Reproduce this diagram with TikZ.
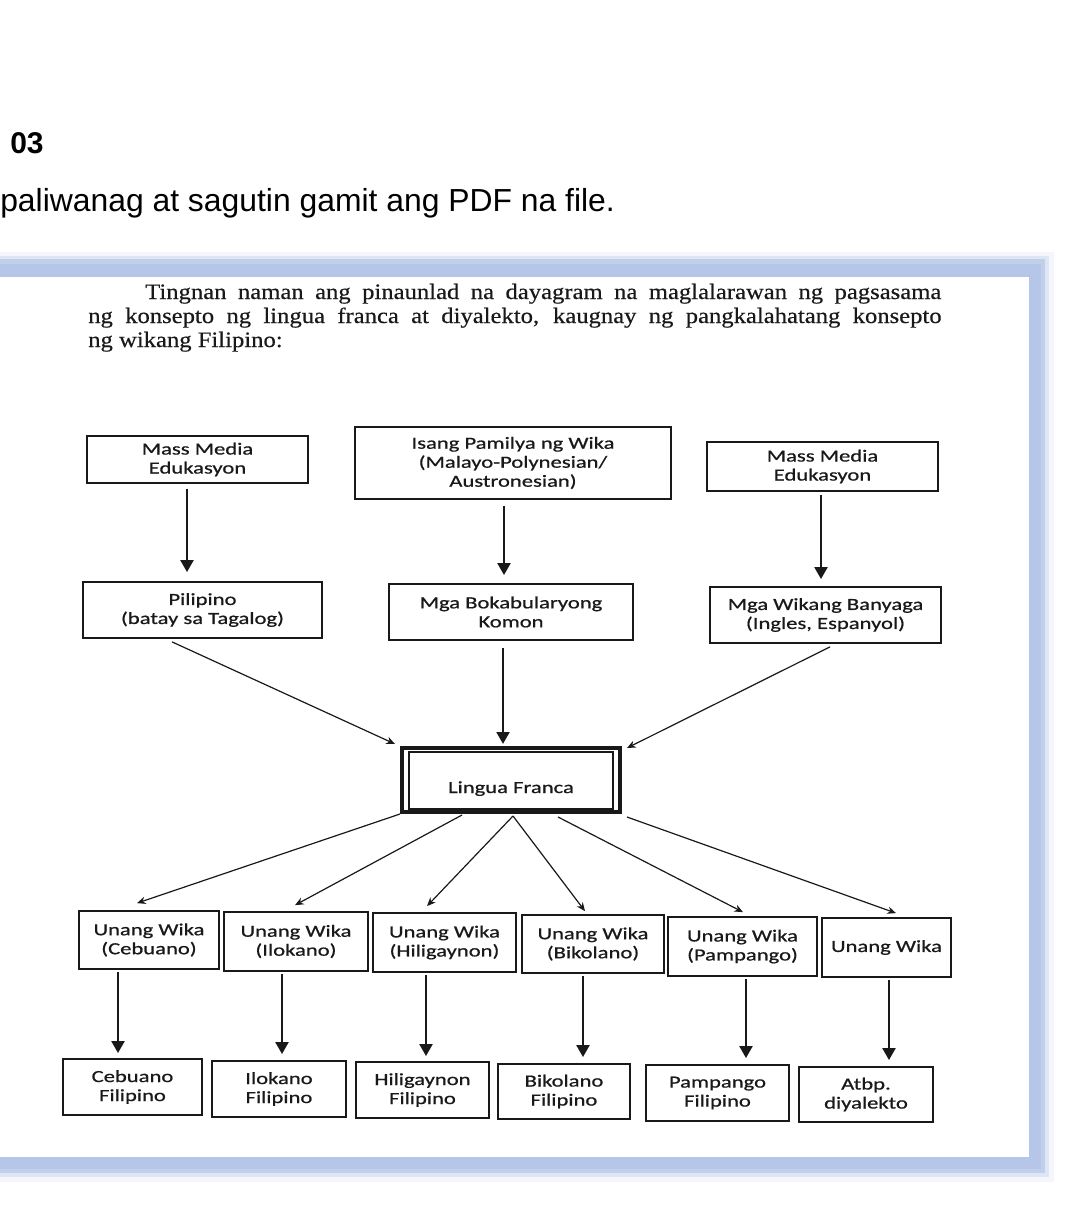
\documentclass[tikz,border=0pt]{standalone}
\usepackage{fontspec}
\setmainfont{Liberation Sans}
\newfontfamily\serfont[FakeStretch=1.12,FakeBold=0.4]{Liberation Serif}
\newfontfamily\calfont[FakeStretch=1.33,FakeBold=0.7]{Carlito}
\usetikzlibrary{arrows.meta,calc}
\definecolor{glowc}{RGB}{182,198,232}
\definecolor{inkc}{RGB}{25,25,25}
\newcommand{\boxfont}{\calfont\fontsize{12.75pt}{14.25pt}\selectfont}
\newcommand{\parfont}{\serfont\fontsize{16.5pt}{18pt}\selectfont}
\begin{document}
\begin{tikzpicture}[x=0.75pt,y=-0.75pt,
  box/.style={draw=inkc, line width=1.3pt, fill=white, align=center, font=\boxfont, text=inkc, inner sep=2pt},
  lfbox/.style={draw=inkc, line width=3pt, fill=white, align=center, font=\boxfont, text=inkc, inner sep=2pt},
  wh/.style 2 args={minimum width={(#1)*0.75pt}, minimum height={(#2)*0.75pt}},
  thickarr/.style={draw=inkc, line width=2.2pt, -{Triangle[length=9pt,width=9.5pt]}},
  thinarr/.style={draw=inkc, line width=0.9pt, -{Stealth[length=6.5pt,width=5.5pt]}},
  ptext/.style={anchor=base west, inner sep=0pt, font=\parfont, text=inkc}
]
\useasboundingbox (0,0) rectangle (1080,1211);
\fill[white] (0,0) rectangle (1080,1211);

% headings
\node[anchor=base west, inner sep=0pt, font=\bfseries\fontsize{22.5pt}{25pt}\selectfont] (h1) at (10,153) {03};
\node[anchor=base west, inner sep=0pt, font=\fontsize{23.9pt}{27pt}\selectfont] (h2) at (0,211) {paliwanag at sagutin gamit ang PDF na file.};

% glowing frame
\fill[glowc, opacity=0.15] (-30,252) rectangle (1054,1182);
\fill[glowc, opacity=0.35] (-30,256) rectangle (1049,1177);
\fill[glowc, opacity=0.7] (-30,259) rectangle (1045,1173);
\fill[glowc] (-30,264) rectangle (1041,1169);
\fill[white] (-30,277) rectangle (1029,1157);

% paragraph
\node[ptext] (p1) at (145,299) {\makebox[597pt][s]{Tingnan naman ang pinaunlad na dayagram na maglalarawan ng pagsasama}};
\node[ptext] (p2) at (88,323) {\makebox[640pt][s]{ng konsepto ng lingua franca at diyalekto, kaugnay ng pangkalahatang konsepto}};
\node[ptext] (p3) at (88,347) {ng wikang Filipino:};

% row A
\node[box, wh={221}{47}] (A1) at (197.5,459.5) {Mass Media\\Edukasyon};
\node[box, wh={316}{72}] (A2) at (513,463) {Isang Pamilya ng Wika\\(Malayo-Polynesian/\\Austronesian)};
\node[box, wh={231}{49}] (A3) at (822.5,466.5) {Mass Media\\Edukasyon};
% row B
\node[box, wh={239}{56}] (B1) at (202.5,610) {Pilipino\\(batay sa Tagalog)};
\node[box, wh={244}{56}] (B2) at (511,612) {Mga Bokabularyong\\Komon};
\node[box, wh={231}{56}] (B3) at (825.5,615) {Mga Wikang Banyaga\\(Ingles, Espanyol)};
% lingua franca
\node[lfbox, wh={218}{64}] (LF) at (511,780) {\smash{\raisebox{-9.75pt}{Lingua Franca}}};
\draw[draw=inkc, line width=1pt] ([shift={(9,6)}]LF.north west) rectangle ([shift={(-9,-5)}]LF.south east);
% row C
\node[box, wh={140}{58}] (C1) at (149,940) {Unang Wika\\(Cebuano)};
\node[box, wh={144}{59}] (C2) at (296,941.5) {Unang Wika\\(Ilokano)};
\node[box, wh={143}{59}] (C3) at (444.5,942.5) {Unang Wika\\(Hiligaynon)};
\node[box, wh={142}{58}] (C4) at (593,944) {Unang Wika\\(Bikolano)};
\node[box, wh={149}{59}] (C5) at (742.5,946.5) {Unang Wika\\(Pampango)};
\node[box, wh={129}{59}] (C6) at (886.5,947.5) {Unang Wika};
% row D
\node[box, wh={139}{56}] (D1) at (132.5,1087) {Cebuano\\Filipino};
\node[box, wh={134}{56}] (D2) at (279,1089) {Ilokano\\Filipino};
\node[box, wh={133}{56}] (D3) at (422.5,1090) {Hiligaynon\\Filipino};
\node[box, wh={132}{55}] (D4) at (564,1091.5) {Bikolano\\Filipino};
\node[box, wh={143}{56}] (D5) at (717.5,1093) {Pampango\\Filipino};
\node[box, wh={134}{55}] (D6) at (866,1094.5) {Atbp.\\diyalekto};

% arrows A -> B
\draw[thickarr] ($(A1.south)+(-10.5,5)$) -- ($(B1.north)+(-15.5,-9)$);
\draw[thickarr] ($(A2.south)+(-9,6)$) -- ($(B2.north)+(-7,-8)$);
\draw[thickarr] ($(A3.south)+(-1.5,3)$) -- ($(B3.north)+(-4.5,-7)$);
% B -> LF
\draw[thickarr] ($(B2.south)+(-8,7)$) -- ($(LF.north)+(-8,-2)$);
\draw[thinarr] ($(B1.south)+(-30.5,3)$) -- ($(LF.north west)+(-5,-2)$);
\draw[thinarr] ($(B3.south)+(4.5,3)$) -- ($(LF.north east)+(5,2)$);
% LF -> C
\draw[thinarr] (LF.south west) -- ($(C1.north)+(-12,-7)$);
\draw[thinarr] ($(LF.south)+(-49,1)$) -- ($(C2.north)+(-1,-6)$);
\draw[thinarr] ($(LF.south)+(2,2)$) -- ($(C3.north)+(-17.5,-6)$);
\draw[thinarr] ($(LF.south)+(2,2)$) -- ($(C4.north)+(-8,-3)$);
\draw[thinarr] ($(LF.south)+(47,3)$) -- ($(C5.north)+(0.5,-4)$);
\draw[thinarr] ($(LF.south east)+(5,3)$) -- ($(C6.north)+(9.5,-4)$);
% C -> D
\draw[thickarr] ($(C1.south)+(-31,2)$) -- ($(D1.north)+(-14.5,-5)$);
\draw[thickarr] ($(C2.south)+(-14,2)$) -- ($(D2.north)+(3,-6)$);
\draw[thickarr] ($(C3.south)+(-18.5,2)$) -- ($(D3.north)+(3.5,-5)$);
\draw[thickarr] ($(C4.south)+(-10,2)$) -- ($(D4.north)+(19,-6)$);
\draw[thickarr] ($(C5.south)+(3.5,2)$) -- ($(D5.north)+(28.5,-6)$);
\draw[thickarr] ($(C6.south)+(2.5,2)$) -- ($(D6.north)+(23,-6)$);
\end{tikzpicture}
\end{document}
